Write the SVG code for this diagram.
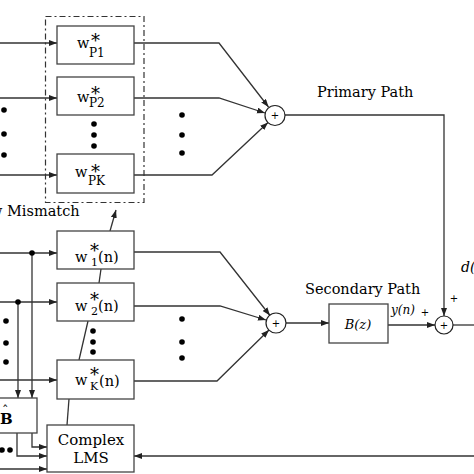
<svg xmlns="http://www.w3.org/2000/svg" width="474" height="474" viewBox="0 0 474 474">
<defs>
<marker id="ah" markerUnits="userSpaceOnUse" markerWidth="9" markerHeight="7" refX="8" refY="3" orient="auto">
<path d="M0,0 L8,3 L0,6 z" fill="#222"/>
</marker>
<style>
.ln{fill:none;stroke:#333;stroke-width:1.3}
.ar{fill:none;stroke:#333;stroke-width:1.3;marker-end:url(#ah)}
.bx{fill:#fff;stroke:#444;stroke-width:1.3}
.cir{fill:#fff;stroke:#222;stroke-width:1.2}
.t{font-family:"DejaVu Serif","Liberation Serif",serif;font-size:14.5px;fill:#000}
.it{font-family:"DejaVu Serif","Liberation Serif",serif;font-style:italic;fill:#000}
.st{font-family:"DejaVu Serif","Liberation Serif",serif;font-size:18px;fill:#000}
.sb{font-family:"DejaVu Serif","Liberation Serif",serif;font-size:12px;fill:#000}
.pl{font-family:"DejaVu Sans","Liberation Sans",sans-serif;font-size:10px;fill:#000;text-anchor:middle}
.dot{fill:#000}
</style>
</defs>
<rect width="474" height="474" fill="#fff"/>

<g id="connectors">
<path class="ar" d="M0,43 H57"/>
<path class="ar" d="M0,98 H57"/>
<path class="ar" d="M0,175 H57"/>
<path class="ar" d="M134,43 H219 L268.5,107"/>
<path class="ar" d="M134,98 H219 L265,113"/>
<path class="ar" d="M134,175 H212 L268,122.5"/>
<path class="ar" d="M285,115 H444 V316"/>
<path class="ar" d="M0,253 H57"/>
<path class="ar" d="M0,302 H57"/>
<path class="ar" d="M0,380 H57"/>
<path class="ar" d="M32,253 V398"/>
<path class="ar" d="M18,302 V398"/>
<path class="ar" d="M32,433 V447 H47"/>
<path class="ar" d="M17,433 V456 H47"/>
<path class="ar" d="M0,469 H47"/>
<path class="ar" d="M134,252 H220 L270,315.5"/>
<path class="ar" d="M134,306 H220 L266,320"/>
<path class="ar" d="M134,381 H217 L269,330"/>
<path class="ar" d="M286,323 H329"/>
<path class="ar" d="M388,325 H435"/>
<path class="ln" d="M453,325 H474"/>
<path class="ar" d="M474,456 H134"/>
<path class="ln" d="M67,425 L69,399"/>
<path class="ln" d="M79,360 L88,321"/>
<path class="ln" d="M99,283 L101,269"/>
<path class="ar" d="M110,231 L116,210"/>
</g>

<g id="mismatch-box">
<rect x="45.5" y="16.5" width="98.5" height="186" fill="none" stroke="#333" stroke-width="1.2" stroke-dasharray="6,3,2,3"/>
</g>

<g id="wP1">
<rect class="bx" x="57" y="26" width="77" height="38"/>
<text class="t" x="77" y="48">w</text><text class="st" x="91" y="47">*</text><text class="sb" x="89" y="57">P1</text>
</g>
<g id="wP2">
<rect class="bx" x="57" y="77" width="77" height="38"/>
<text class="t" x="77" y="102">w</text><text class="st" x="91" y="100">*</text><text class="sb" x="89" y="107">P2</text>
</g>
<g id="wPK">
<rect class="bx" x="57" y="154" width="77" height="39"/>
<text class="t" x="75" y="177">w</text><text class="st" x="91" y="178">*</text><text class="sb" x="88" y="185">PK</text>
</g>

<g id="w1">
<rect class="bx" x="57" y="231" width="77" height="38"/>
<text class="t" x="75" y="262">w</text><text class="st" x="90" y="257">*</text><text class="sb" x="91" y="266" style="font-size:11px">1</text><text class="t" x="98" y="262">(n)</text>
</g>
<g id="w2">
<rect class="bx" x="57" y="283" width="77" height="38"/>
<text class="t" x="75" y="311">w</text><text class="st" x="90" y="306">*</text><text class="sb" x="91" y="315" style="font-size:11px">2</text><text class="t" x="98" y="311">(n)</text>
</g>
<g id="wK">
<rect class="bx" x="57" y="360" width="77" height="39"/>
<text class="t" x="75" y="385">w</text><text class="st" x="90" y="381">*</text><text class="sb" x="90" y="390" style="font-size:11px">K</text><text class="t" x="99" y="386">(n)</text>
</g>

<g id="Bhat">
<rect class="bx" x="-2" y="398" width="39" height="35"/>
<text class="t" x="0" y="424" style="font-size:15px;font-weight:bold">B</text>
<text class="t" x="2" y="415" style="font-size:13px">ˆ</text>
</g>

<g id="lms">
<rect class="bx" x="47" y="425" width="87" height="47"/>
<text class="t" x="91" y="445" text-anchor="middle" style="font-size:15px">Complex</text>
<text class="t" x="91" y="463" text-anchor="middle" style="font-size:15px">LMS</text>
</g>

<g id="sum-primary">
<circle class="cir" cx="275" cy="115.5" r="10"/>
<text class="pl" x="275" y="119">+</text>
</g>
<g id="sum-secondary">
<circle class="cir" cx="276" cy="323" r="10"/>
<text class="pl" x="276" y="327">+</text>
</g>
<g id="Bz">
<rect class="bx" x="329" y="304" width="59" height="39"/>
<text class="it" x="358" y="329" text-anchor="middle" style="font-size:13px">B(z)</text>
</g>
<g id="sum-error">
<circle class="cir" cx="444" cy="325" r="9"/>
<text class="pl" x="444" y="329">+</text>
</g>

<g id="labels">
<text class="t" x="317" y="97">Primary Path</text>
<text class="t" x="305" y="294">Secondary Path</text>
<text class="t" x="-10" y="216">w Mismatch</text>
<text class="it" x="391" y="314" style="font-size:12px">y(n)</text>
<text class="it" x="461" y="272" style="font-size:14px">d(n)</text>
<text class="pl" x="425" y="316">+</text>
<text class="pl" x="454" y="302">+</text>
</g>

<g id="dots">
<circle class="dot" cx="4" cy="110" r="2.8"/>
<circle class="dot" cx="4" cy="134" r="2.8"/>
<circle class="dot" cx="4" cy="155" r="2.8"/>
<circle class="dot" cx="94" cy="124" r="2.8"/>
<circle class="dot" cx="94" cy="135" r="2.8"/>
<circle class="dot" cx="94" cy="146" r="2.8"/>
<circle class="dot" cx="182" cy="115" r="2.8"/>
<circle class="dot" cx="182" cy="135" r="2.8"/>
<circle class="dot" cx="182" cy="153" r="2.8"/>
<circle class="dot" cx="32" cy="253" r="2.8"/>
<circle class="dot" cx="18" cy="302" r="2.8"/>
<circle class="dot" cx="6" cy="321" r="2.8"/>
<circle class="dot" cx="6" cy="343" r="2.8"/>
<circle class="dot" cx="6" cy="362" r="2.8"/>
<circle class="dot" cx="93" cy="331" r="2.8"/>
<circle class="dot" cx="93" cy="342" r="2.8"/>
<circle class="dot" cx="93" cy="352" r="2.8"/>
<circle class="dot" cx="182" cy="319" r="2.8"/>
<circle class="dot" cx="182" cy="342" r="2.8"/>
<circle class="dot" cx="182" cy="358" r="2.8"/>
<circle class="dot" cx="2" cy="450" r="2.8"/>
<circle class="dot" cx="10" cy="450" r="2.8"/>
</g>
</svg>
